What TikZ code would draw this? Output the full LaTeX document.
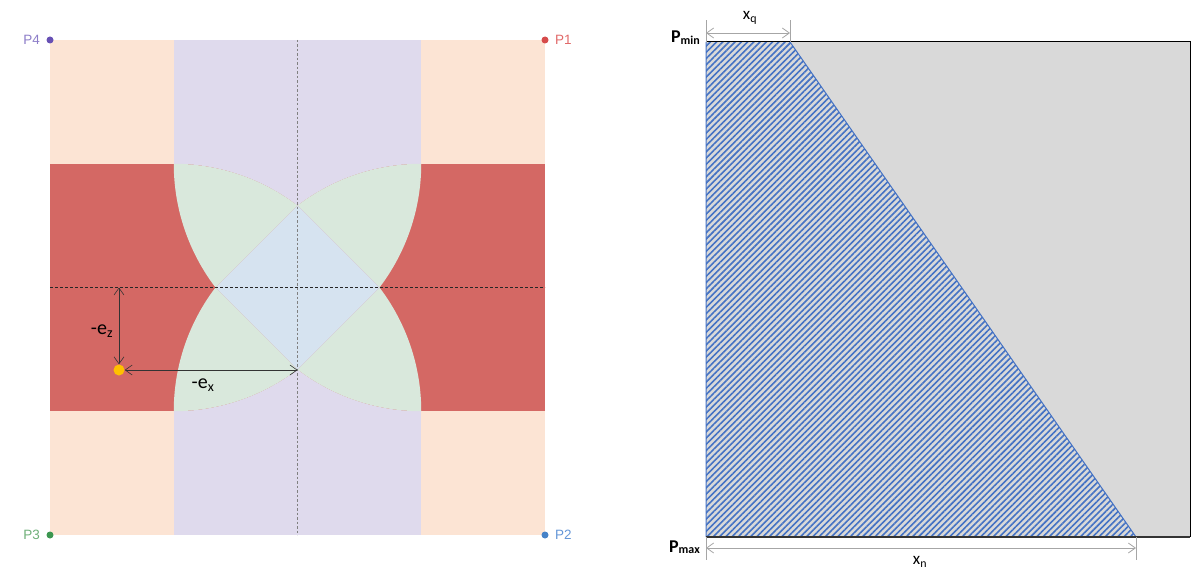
\documentclass[tikz,border=0pt]{standalone}
\usepackage{fontspec}
\setmainfont{Carlito}
\newfontfamily\lblfont{Liberation Sans}
\usetikzlibrary{arrows.meta,patterns.meta}
\definecolor{peach}{RGB}{252,228,212}
\definecolor{lavender}{RGB}{223,218,237}
\definecolor{redrow}{RGB}{212,104,100}
\definecolor{petal}{RGB}{217,232,220}
\definecolor{diamond}{RGB}{214,227,240}
\definecolor{pfourdot}{RGB}{103,80,180}
\definecolor{pfourtxt}{RGB}{140,125,200}
\definecolor{ponedot}{RGB}{214,75,75}
\definecolor{ponetxt}{RGB}{225,105,105}
\definecolor{pthreedot}{RGB}{60,150,80}
\definecolor{pthreetxt}{RGB}{110,175,120}
\definecolor{ptwodot}{RGB}{70,130,200}
\definecolor{ptwotxt}{RGB}{100,150,215}
\definecolor{srcdot}{RGB}{255,192,0}
\definecolor{hatch}{RGB}{68,114,196}
\definecolor{boxgrey}{RGB}{217,217,217}
\definecolor{dimgrey}{RGB}{166,166,166}
\begin{document}
\begin{tikzpicture}[x=1pt,y=-1pt]
        \tikzset{corner/.style={circle,inner sep=0pt,minimum size=7pt},
            plabel/.style={font=\lblfont\fontsize{13.5}{15}\selectfont,label distance=3pt},
            dim/.style={draw=black!80,line width=0.6pt,{Straight Barb[length=7pt,width=10pt]}-{Straight Barb[length=7pt,width=10pt]}},
            meas/.style={draw=dimgrey,line width=0.8pt,{Straight Barb[length=7pt,width=10pt]}-{Straight Barb[length=7pt,width=10pt]}},
            ext/.style={draw=dimgrey,line width=0.8pt},
            lbl/.style={font=\fontsize{20}{22}\selectfont,inner sep=0pt},
            dimlbl/.style={font=\fontsize{17}{19}\selectfont,inner sep=0pt},
            plim/.style={font=\bfseries\fontsize{18}{20}\selectfont,inner sep=0pt,anchor=base east}};
        \useasboundingbox (0,0) rectangle (1200,578);
        \fill[peach] (50,40) rectangle (545,535);
        \fill[lavender] (173.75,40) rectangle (421.25,535);
        \fill[redrow] (50,163.75) rectangle (545,411.25);
        \begin{scope}[shift={(297.5,287.5)}]
            \foreach \s in {1,-1}
                \fill[lavender,yscale=\s] (-123.75,-123.75) -- (123.75,-123.75) .. controls (79.05,-123.75) and (35.6,-109.1) .. (0,-82) .. controls (-35.6,-109.1) and (-79.05,-123.75) .. cycle;
            \foreach \sx/\sy in {1/1,-1/1,1/-1,-1/-1}
                \fill[petal,xscale=\sx,yscale=\sy] (-123.75,-123.75) .. controls (-79.05,-123.75) and (-35.6,-109.1) .. (0,-82) -- (-82,0) .. controls (-109.1,-35.6) and (-123.75,-79.05) .. cycle;
            \fill[diamond] (0,-82) -- (82,0) -- (0,82) -- (-82,0) -- cycle;
        \end{scope}
        \coordinate (axtop) at (297.5,40);
        \coordinate (axbot) at (297.5,535);
        \coordinate (axleft) at (50,287.5);
        \coordinate (axright) at (545,287.5);
        \draw[black!85,line width=0.6pt,dash pattern=on 3pt off 2pt] (axleft) -- (axright);
        \draw[black!50,line width=1pt,dash pattern=on 2.5pt off 2pt] (axtop) -- (axbot);
        \node[corner,fill=pfourdot,label={[plabel,text=pfourtxt]left:P4}] (p4) at (50,40) {};
        \node[corner,fill=ponedot,label={[plabel,text=ponetxt]right:P1}] (p1) at (545,40) {};
        \node[corner,fill=pthreedot,label={[plabel,text=pthreetxt]left:P3}] (p3) at (50,535) {};
        \node[corner,fill=ptwodot,label={[plabel,text=ptwotxt]right:P2}] (p2) at (545,535) {};
        \node[circle,fill=srcdot,inner sep=0pt,minimum size=11pt] (src) at (119,370) {};
        \coordinate (ezend) at (119,287.5);
        \coordinate (exend) at (297.5,370);
        \draw[dim] (src) -- (ezend);
        \draw[dim] (src) -- (exend);
        \node[lbl] (ez) at (102,331) {-e\textsubscript{z}};
        \node[lbl] (ex) at (203,385) {-e\textsubscript{x}};
        \coordinate (pmin) at (706,42);
        \coordinate (xq) at (790,42);
        \coordinate (xn) at (1136,537);
        \coordinate (pmax) at (706,537);
        \coordinate (ne) at (1190,42);
        \coordinate (se) at (1190,537);
        \fill[boxgrey] (pmin) rectangle (se);
        \fill[pattern={Lines[angle=45,distance=4.4pt,line width=1.6pt]},pattern color=hatch] (pmin) -- (xq) -- (xn) -- (pmax) -- cycle;
        \draw[hatch,line width=1pt] (pmax) -- (pmin) (xq) -- (xn);
        \draw[black,line width=1pt] (pmin) -- (ne) -- (se);
        \draw[black!80,line width=2pt] (pmax) -- (se);
        \coordinate (qtopa) at (706,20);
        \coordinate (qtopb) at (790,20);
        \coordinate (qa) at (706,33);
        \coordinate (qb) at (790,33);
        \draw[ext] (pmin) -- (qtopa) (xq) -- (qtopb);
        \draw[meas] (qa) -- (qb);
        \node[dimlbl] (xqlbl) at (750,18) {x\textsubscript{q}};
        \coordinate (nbota) at (706,560);
        \coordinate (nbotb) at (1136,560);
        \coordinate (na) at (706,548);
        \coordinate (nb) at (1136,548);
        \draw[ext] (pmax) -- (nbota) (xn) -- (nbotb);
        \draw[meas] (na) -- (nb);
        \node[dimlbl] (xnlbl) at (920,562) {x\textsubscript{n}};
        \node[plim] (pminlbl) at (700,43) {P\raisebox{-1.5pt}{\fontsize{12}{13}\selectfont min}};
        \node[plim] (pmaxlbl) at (700,552) {P\raisebox{-1.5pt}{\fontsize{12}{13}\selectfont max}};
\end{tikzpicture}
\end{document}
